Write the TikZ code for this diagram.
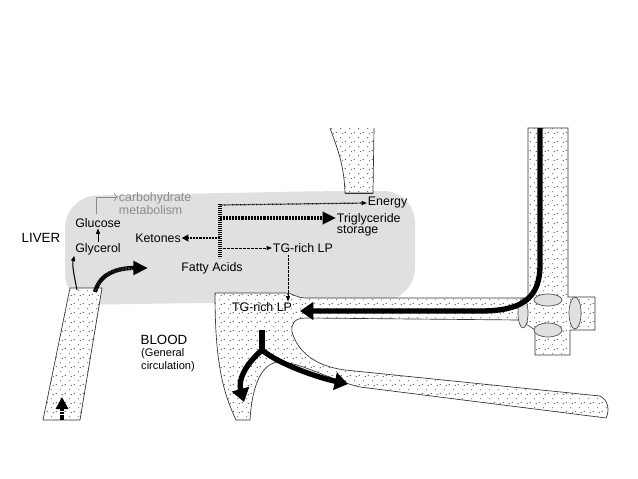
\documentclass[tikz,border=0pt]{standalone}
\usepackage{fontspec}
\setmainfont{Liberation Sans}
\usetikzlibrary{patterns,arrows.meta}
\pgfdeclarepatternformonly{sparsedots}{\pgfpointorigin}{\pgfpoint{7pt}{7pt}}{\pgfpoint{7pt}{7pt}}{
  \pgfpathcircle{\pgfpoint{1pt}{2pt}}{0.45pt}
  \pgfpathcircle{\pgfpoint{4.5pt}{5pt}}{0.45pt}
  \pgfpathcircle{\pgfpoint{5.8pt}{1.2pt}}{0.45pt}
  \pgfusepath{fill}}
\definecolor{liver}{gray}{0.88}
\tikzset{
  vessel/.style={draw=black!80,line width=0.5pt,fill=white,postaction={pattern=sparsedots,pattern color=black!70}},
  lbl/.style={font=\fontsize{9.3}{9.3}\selectfont,inner sep=0.5pt,align=left},
  big/.style={line width=4pt,-{Triangle[length=10pt,width=13pt]}},
  thin/.style={line width=0.5pt,-{Triangle[length=4pt,width=3pt]}},
  dotarr/.style={line width=0.9pt,dash pattern=on 0.6pt off 0.4pt,-{Triangle[length=4pt,width=3pt]}},
  joint/.style={draw=black!70,fill=black!12,line width=0.5pt}
}
\begin{document}
\begin{tikzpicture}[x=0.75pt,y=-0.75pt]
\useasboundingbox (0,0) rectangle (638,478);
% liver
\fill[liver,rounded corners=24pt] (65,196) -- (330,191) -- (415,191) -- (415,300) -- (65,305) -- cycle;
% top vessel
\path[vessel] (330,128) .. controls (338,150) and (344,165) .. (345,193) -- (373,193) -- (374,128);
\draw[black!80,line width=0.5pt] (345,193) -- (373,193);
% left vessel
\path[vessel] (70,288) -- (102,288) -- (80,420) -- (43,420) -- cycle;
% big vessel system
\path[vessel] (215,293) -- (285,293) .. controls (293,293) and (296,298) .. (306,298) -- (528,298) -- (528,128)
  -- (568,128) -- (568,297) -- (595,297) -- (595,330) -- (570,330) -- (570,355) -- (535,355) -- (535,330) -- (520,320)
  -- (306,318) .. controls (294,318) and (291,324) .. (292,332) .. controls (298,352) and (315,366) .. (345,370)
  -- (600,396) .. controls (608,400) and (610,410) .. (606,418) -- (360,387)
  .. controls (330,380) and (300,362) .. (280,362) .. controls (262,362) and (252,385) .. (250,420)
  -- (236,420) .. controls (222,390) and (215,360) .. (215,293) -- cycle;
% joints
\path[joint] (548,300) ellipse [x radius=14,y radius=6];
\path[joint] (575,313) ellipse [x radius=6,y radius=16];
\path[joint] (548,330) ellipse [x radius=14,y radius=7];
\path[joint] (523,313) ellipse [x radius=5,y radius=15];
% labels
\node[lbl,font=\fontsize{10}{10}\selectfont] (liverlbl) at (41,238) {LIVER};
\node[lbl] (glucose) at (98,223) {Glucose};
\node[lbl] (glycerol) at (98,249) {Glycerol};
\node[lbl,text=black!45,anchor=west,align=left,font=\fontsize{9.3}{8}\selectfont] (carb) at (118,204) {carbohydrate\\metabolism};
\node[lbl] (ketones) at (158,238) {Ketones};
\node[lbl] (fatty) at (212,268) {Fatty Acids};
\node[lbl,anchor=west] (energy) at (367,203) {Energy};
\node[lbl,anchor=west,font=\fontsize{9.3}{8}\selectfont] (trig) at (336,225) {Triglyceride\\storage};
\node[lbl,anchor=west] (tglp1) at (272,248) {TG-rich LP};
\node[lbl] (tglp2) at (262,307) {TG-rich LP};
\node[lbl,font=\fontsize{10}{10}\selectfont] (blood) at (164,340) {BLOOD};
\node[lbl,font=\fontsize{8.3}{9.3}\selectfont] (gen) at (168,360) {(General\\circulation)};
% liver connectors
\coordinate (fa1) at (220,204); \coordinate (fa2) at (220,258);
\draw[line width=3.5pt,dash pattern=on 0.9pt off 0.6pt] (fa1) -- (fa2);
\draw[dotarr] (220,205) -- (energy.west);
\draw[line width=2.5pt,dash pattern=on 0.7pt off 0.4pt,-{Triangle[length=10pt,width=9pt]}] (220,218) -- (trig.west |- 0,218);
\draw[line width=1.6pt,dash pattern=on 0.7pt off 0.4pt,-{Triangle[length=5pt,width=5pt]}] (220,238) -- (ketones.east);
\draw[dotarr,line width=0.6pt] (220,248) -- (tglp1.west);
\draw[dotarr,line width=0.6pt] (288,255) -- (tglp2.north -| 288,0);
\draw[thin] (glycerol.north) -- (glucose.south);
\draw[black!45,line width=0.5pt,-{To[length=3pt]}] (96,214) -- (96,197) -- (carb.west |- 0,197);
\coordinate (lv1) at (77,290); \coordinate (lv2) at (95,292);
\draw[thin,line width=0.8pt] (lv1) .. controls (74,275) and (72,265) .. (glycerol.south west);
\draw[line width=3.2pt,dash pattern=on 0.8pt off 0.3pt,-{Triangle[length=11pt,width=10pt]}] (lv2) .. controls (100,272) and (120,268) .. (148,268);
% big arrows
\coordinate (r0) at (540,128);
\draw[big] (r0) -- (540,265) .. controls (540,300) and (520,311) .. (480,311) -- (300,311);
\coordinate (b0) at (262,330); \coordinate (b1) at (262,350);
\draw[line width=4pt] (b0) -- (b1);
\draw[big] (b1) .. controls (280,365) and (320,378) .. (348,384);
\draw[big] (b1) .. controls (245,365) and (238,380) .. (244,402);
\coordinate (u0) at (62,420);
\draw[line width=3pt,dash pattern=on 0.8pt off 0.3pt,-{Triangle[length=9pt,width=9pt]}] (u0) -- (62,397);
\end{tikzpicture}
\end{document}
